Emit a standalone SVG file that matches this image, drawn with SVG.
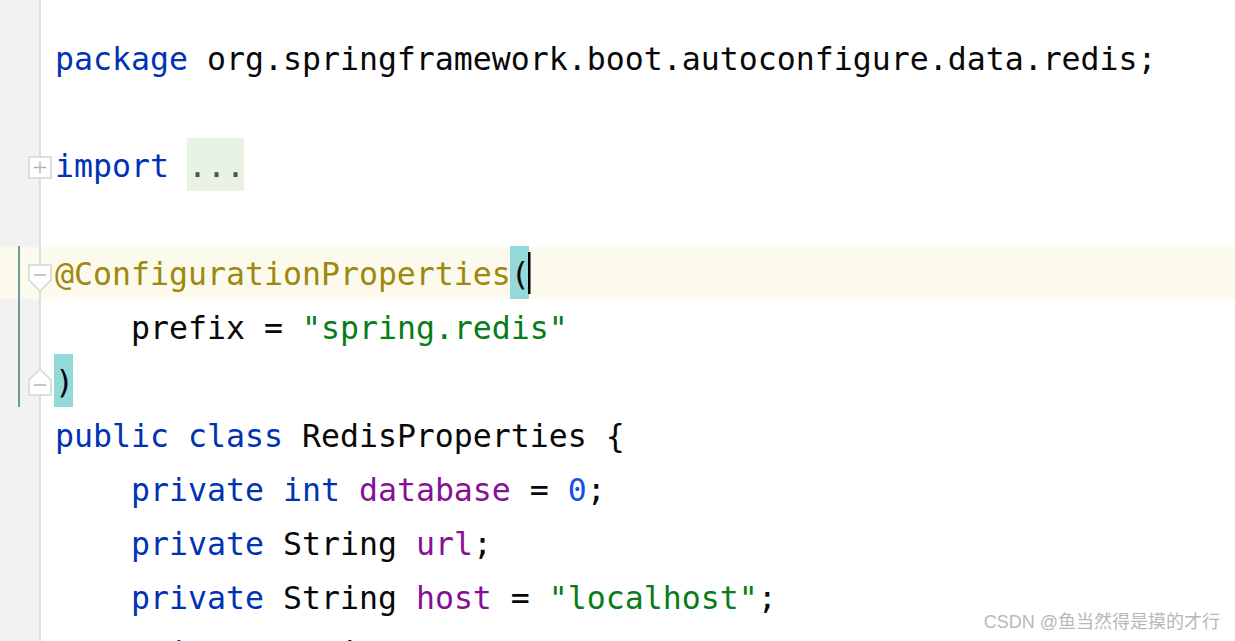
<svg xmlns="http://www.w3.org/2000/svg" width="1235" height="641" viewBox="0 0 1235 641">
<style>
text{font-family:"DejaVu Sans Mono","Liberation Mono",monospace;font-size:31.55px;white-space:pre}
.k{fill:#0033b3}.d{fill:#080808}.a{fill:#9e880d}.s{fill:#067d17}.f{fill:#871094}.n{fill:#1750eb}.g{fill:#505050}
.fold{fill:#fff;stroke:#d4d4d4;stroke-width:1.5}
</style>
<rect width="1235" height="641" fill="#fff"/>
<rect x="0" y="0" width="40" height="641" fill="#f2f2f2"/>
<rect x="0" y="247" width="1235" height="52" fill="#fcfaed"/>
<line x1="40" y1="0" x2="40" y2="641" stroke="#d4d4d4" stroke-width="1.5"/>
<line x1="19" y1="246" x2="19" y2="407" stroke="#6a9c9c" stroke-width="2"/>
<rect x="187" y="138" width="57" height="53" fill="#e8f2e5"/>
<rect x="510" y="246" width="19" height="53" fill="#93d9d9"/>
<rect x="528" y="252" width="2.5" height="42" fill="#000"/>
<rect x="54" y="354" width="19" height="53" fill="#93d9d9"/>
<g id="fold1"><rect class="fold" x="29" y="157" width="22" height="21"/><path d="M34 167.5h12M40 161.5v12" stroke="#b4b4b4" stroke-width="1.5"/></g>
<g id="fold2"><path class="fold" d="M29 265h22v15l-11 11l-11-11z"/><path d="M34 275h12" stroke="#b4b4b4" stroke-width="1.5"/></g>
<g id="fold3"><path class="fold" d="M29 395h22v-15l-11-11l-11 11z"/><path d="M34 385h12" stroke="#b4b4b4" stroke-width="1.5"/></g>
<text x="55" y="70"><tspan class="k">package</tspan><tspan class="d"> org.springframework.boot.autoconfigure.data.redis;</tspan></text>
<text x="55" y="177"><tspan class="k">import</tspan><tspan class="g"> ...</tspan></text>
<text x="55" y="285"><tspan class="a">@ConfigurationProperties</tspan><tspan class="d">(</tspan></text>
<text x="55" y="339"><tspan class="d">    prefix = </tspan><tspan class="s">"spring.redis"</tspan></text>
<text x="55" y="393" class="d">)</text>
<text x="55" y="447"><tspan class="k">public class</tspan><tspan class="d"> RedisProperties {</tspan></text>
<text x="55" y="501"><tspan class="d">    </tspan><tspan class="k">private int</tspan><tspan class="d"> </tspan><tspan class="f">database</tspan><tspan class="d"> = </tspan><tspan class="n">0</tspan><tspan class="d">;</tspan></text>
<text x="55" y="555"><tspan class="d">    </tspan><tspan class="k">private</tspan><tspan class="d"> String </tspan><tspan class="f">url</tspan><tspan class="d">;</tspan></text>
<text x="55" y="609"><tspan class="d">    </tspan><tspan class="k">private</tspan><tspan class="d"> String </tspan><tspan class="f">host</tspan><tspan class="d"> = </tspan><tspan class="s">"localhost"</tspan><tspan class="d">;</tspan></text>
<text x="55" y="664"><tspan class="d">    </tspan><tspan class="k">private</tspan><tspan class="d"> String </tspan><tspan class="f">username</tspan><tspan class="d">;</tspan></text>
<text x="1220" y="628" text-anchor="end" style="font-family:'Liberation Sans','Noto Sans CJK SC',sans-serif;font-size:18px;fill:#b8b8b8">CSDN @鱼当然得是摸的才行</text>
</svg>
